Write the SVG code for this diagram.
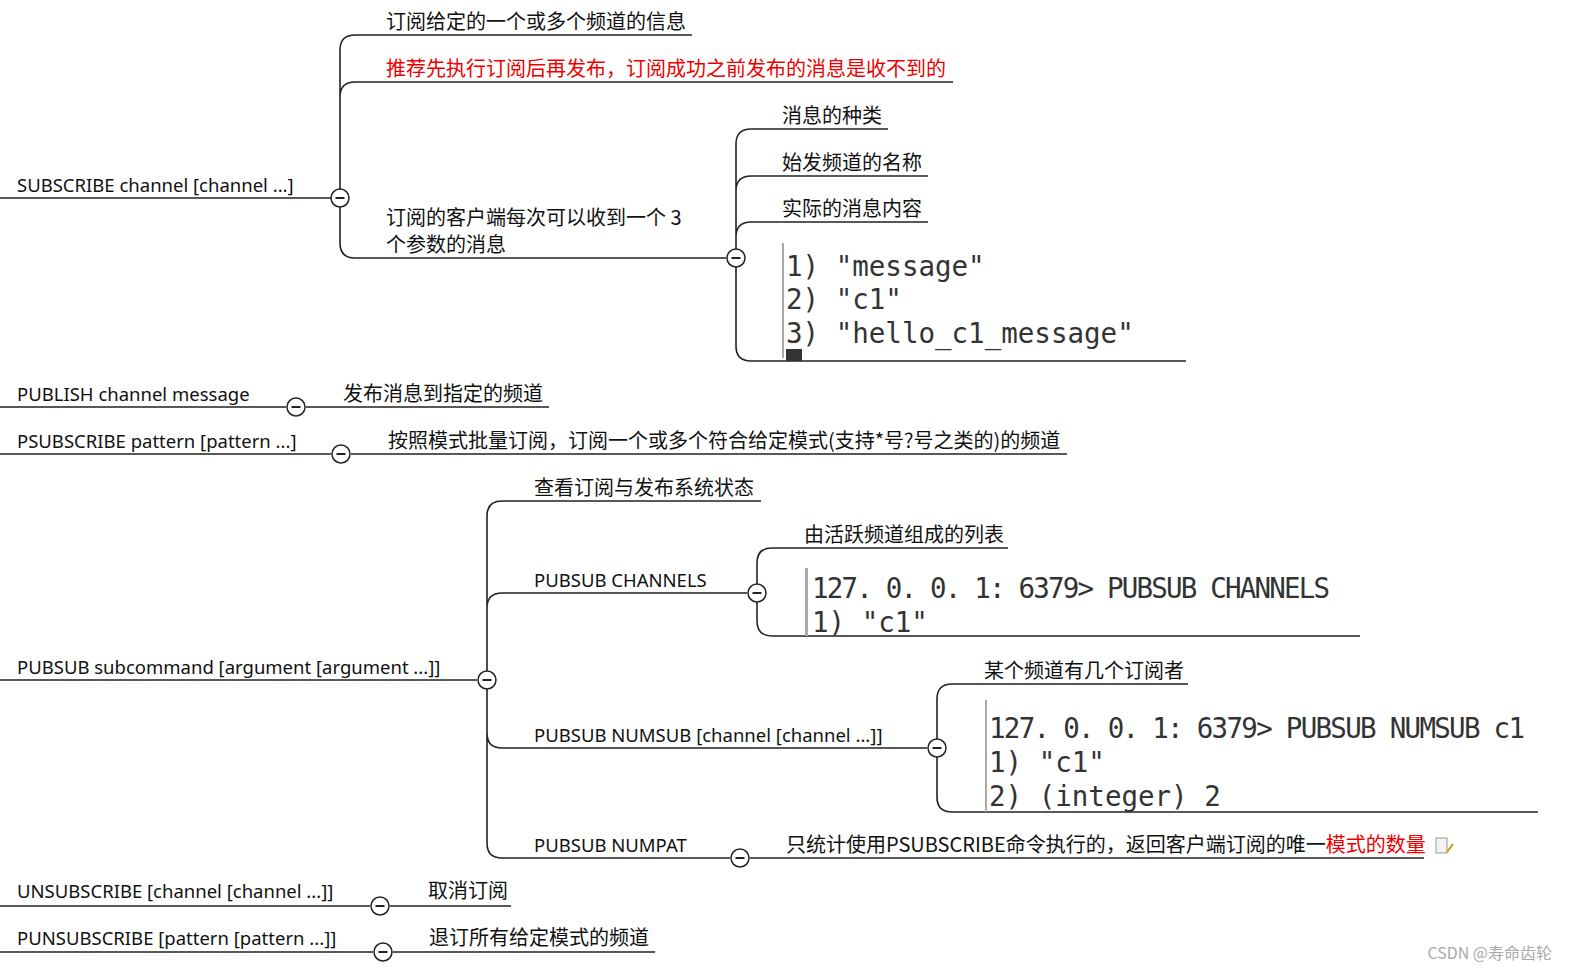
<svg xmlns="http://www.w3.org/2000/svg" width="1570" height="972" viewBox="0 0 1570 972">
<style>
.l{fill:none;stroke:#222;stroke-width:1.6}
.c{fill:#fff;stroke:#222;stroke-width:1.5}
.t{font-family:"Noto Sans","Noto Sans CJK SC",sans-serif;font-size:18.5px;fill:#111}
.z{font-family:"Noto Sans CJK SC",sans-serif;font-size:20px;fill:#111}
.r{fill:#e00}
.m{font-family:"DejaVu Sans Mono","Liberation Mono",monospace;font-size:27.5px;fill:#333}
.bar{fill:#aaa}
</style>
<defs><g id="col"><circle r="9" class="c"/><line x1="-4.5" y1="0" x2="4.5" y2="0" stroke="#222" stroke-width="2"/></g></defs>
<rect width="1570" height="972" fill="#fff"/>
<g id="connectors">
<path class="l" d="M0 198H340"/>
<path class="l" d="M355 35H692 M355 35Q340 35 340 50V243Q340 258 355 258H726 M340 97Q340 82 355 82H953"/>
<path class="l" d="M751 129H888 M751 129Q736 129 736 144V346Q736 361 751 361H1186 M736 191Q736 176 751 176H928 M736 237Q736 222 751 222H928"/>
<path class="l" d="M0 407H286 M306 407H549"/>
<path class="l" d="M0 454H331 M351 454H1067"/>
<path class="l" d="M0 680H477"/>
<path class="l" d="M502 501H761 M502 501Q487 501 487 516V843Q487 858 502 858H730 M487 608Q487 593 502 593H747 M487 733Q487 748 502 748H927 M750 858H1424"/>
<path class="l" d="M772 548H1008 M772 548Q757 548 757 563V621Q757 636 772 636H1360"/>
<path class="l" d="M952 684H1188 M952 684Q937 684 937 699V797Q937 812 952 812H1538"/>
<path class="l" d="M0 906H370 M390 906H511"/>
<path class="l" d="M0 952H373 M393 952H655"/>
</g>
<g id="n-subscribe"><text class="t" x="17" y="192">SUBSCRIBE channel [channel ...]</text><use href="#col" x="340" y="198"/></g>
<g id="n-sub1"><text class="z" x="386" y="29">订阅给定的一个或多个频道的信息</text></g>
<g id="n-sub2"><text class="z r" x="386" y="76">推荐先执行订阅后再发布，订阅成功之前发布的消息是收不到的</text></g>
<g id="n-sub3"><text class="z" x="386" y="225">订阅的客户端每次可以收到一个 3</text><text class="z" x="386" y="252">个参数的消息</text><use href="#col" x="736" y="258"/></g>
<g id="n-k1"><text class="z" x="782" y="123">消息的种类</text></g>
<g id="n-k2"><text class="z" x="782" y="170">始发频道的名称</text></g>
<g id="n-k3"><text class="z" x="782" y="216">实际的消息内容</text></g>
<g id="n-img1"><rect class="bar" x="782" y="243" width="2" height="115"/><rect x="786" y="349" width="16" height="12" fill="#333"/>
<text class="m" x="786" y="276">1) "message"</text><text class="m" x="786" y="309">2) "c1"</text><text class="m" x="786" y="343">3) "hello_c1_message"</text></g>
<g id="n-publish"><text class="t" x="17" y="401">PUBLISH channel message</text><use href="#col" x="296" y="407"/><text class="z" x="343" y="401">发布消息到指定的频道</text></g>
<g id="n-psub"><text class="t" x="17" y="448">PSUBSCRIBE pattern [pattern ...]</text><use href="#col" x="341" y="454"/><text class="z" x="388" y="448">按照模式批量订阅，订阅一个或多个符合给定模式(支持*号?号之类的)的频道</text></g>
<g id="n-pubsub"><text class="t" x="17" y="674">PUBSUB subcommand [argument [argument ...]]</text><use href="#col" x="487" y="680"/></g>
<g id="n-ps1"><text class="z" x="534" y="495">查看订阅与发布系统状态</text></g>
<g id="n-ps2"><text class="t" x="534" y="587">PUBSUB CHANNELS</text><use href="#col" x="757" y="593"/></g>
<g id="n-ch1"><text class="z" x="804" y="542">由活跃频道组成的列表</text></g>
<g id="n-img2"><rect class="bar" x="805" y="568" width="3" height="68"/>
<text class="m" x="812" y="598" textLength="518">127. 0. 0. 1: 6379&gt;  PUBSUB  CHANNELS</text><text class="m" x="812" y="632">1)  "c1"</text></g>
<g id="n-ps3"><text class="t" x="534" y="742">PUBSUB NUMSUB  [channel [channel ...]]</text><use href="#col" x="937" y="748"/></g>
<g id="n-ns1"><text class="z" x="984" y="678">某个频道有几个订阅者</text></g>
<g id="n-img3"><rect class="bar" x="985" y="700" width="2" height="112"/>
<text class="m" x="989" y="738" textLength="536">127. 0. 0. 1: 6379&gt;  PUBSUB  NUMSUB  c1</text><text class="m" x="989" y="772">1)  "c1"</text><text class="m" x="989" y="806">2) (integer)  2</text></g>
<g id="n-ps4"><text class="t" x="534" y="852">PUBSUB NUMPAT</text><use href="#col" x="740" y="858"/><text class="z" x="786" y="852">只统计使用PSUBSCRIBE命令执行的，返回客户端订阅的唯一<tspan class="r">模式的数量</tspan></text>
<rect x="1436" y="838" width="11" height="15" fill="#f4f4f4" stroke="#999"/><path d="M1447 852l6-8" stroke="#c90" stroke-width="2"/></g>
<g id="n-unsub"><text class="t" x="17" y="898">UNSUBSCRIBE [channel [channel ...]]</text><use href="#col" x="380" y="906"/><text class="z" x="428" y="898">取消订阅</text></g>
<g id="n-punsub"><text class="t" x="17" y="945">PUNSUBSCRIBE [pattern [pattern ...]]</text><use href="#col" x="383" y="952"/><text class="z" x="429" y="945">退订所有给定模式的频道</text></g>
<text x="1552" y="959" text-anchor="end" font-family="Noto Sans CJK SC,sans-serif" font-size="16" fill="#aaa">CSDN @寿命齿轮</text>
</svg>
